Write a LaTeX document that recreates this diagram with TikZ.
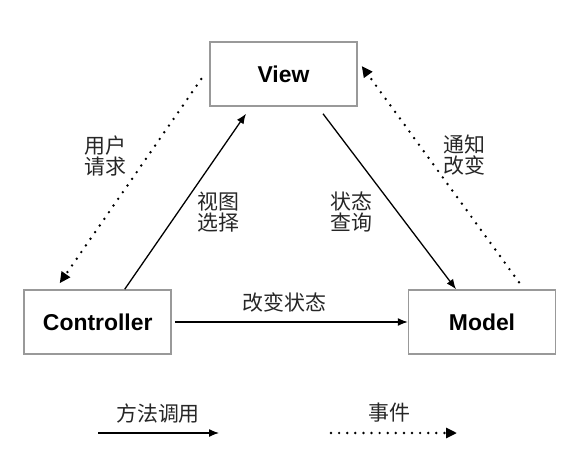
\documentclass[tikz,border=0pt]{standalone}
\usepackage{fontspec}
\setmainfont{Liberation Sans}
\newfontfamily\cjk{Noto Sans CJK SC}
\usetikzlibrary{arrows.meta}
\tikzset{
  box/.style={draw=black!40, line width=1.5bp, fill=white, minimum width=147bp, minimum height=64bp, font=\fontsize{23}{27}\selectfont\bfseries},
  call/.style={-{Latex[length=10bp,width=8bp]}, line width=1.3bp},
  event/.style={-{Triangle[length=11bp,width=10bp]}, line width=2.7bp, line cap=round, dash pattern=on 0bp off 8.1bp},
  lbl/.style={font=\cjk\fontsize{21}{21}\selectfont, text=black!85, align=center, inner sep=0pt}
}
\begin{document}
\begin{tikzpicture}[x=1bp,y=-1bp]
    \useasboundingbox (0,0) rectangle (588,455);
    % Boxes
    \node[box] (view) at (283.5,74) {View};
    \node[box] (ctrl) at (97.7,322) {Controller};
    \node[box] (model) at (482,322) {Model};
    % Method calls
    \draw[call] ([xshift=27bp]ctrl.north) -- ([xshift=-37.5bp,yshift=-7bp]view.south);
    \draw[call] ([xshift=39.5bp,yshift=-7bp]view.south) -- ([xshift=-26bp]model.north);
    \draw[call, shorten <=3bp] (ctrl.east) -- (model.west);
    % Events
    \draw[event] ([xshift=-8bp,yshift=-5bp]view.west) -- ([xshift=-38bp,yshift=6bp]ctrl.north);
    \draw[event] ([xshift=37bp,yshift=7bp]model.north) -- ([xshift=4bp,yshift=8bp]view.east);
    % Labels
    \node[lbl] (request) at (105,156) {用户\\请求};
    \node[lbl] (select) at (218,212) {视图\\选择};
    \node[lbl] (query) at (351,212) {状态\\查询};
    \node[lbl] (notify) at (464,155) {通知\\改变};
    \node[lbl] (change) at (284.5,302) {改变状态};
    % Legend
    \node[lbl] (callname) at (158,414) {方法调用};
    \coordinate (callA) at (98,433);
    \coordinate (callB) at (219,433);
    \draw[call] (callA) -- (callB);
    \node[lbl] (eventname) at (389,413) {事件};
    \coordinate (eventA) at (331,433);
    \coordinate (eventB) at (457,433);
    \draw[event] (eventA) -- (eventB);
\end{tikzpicture}
\end{document}
